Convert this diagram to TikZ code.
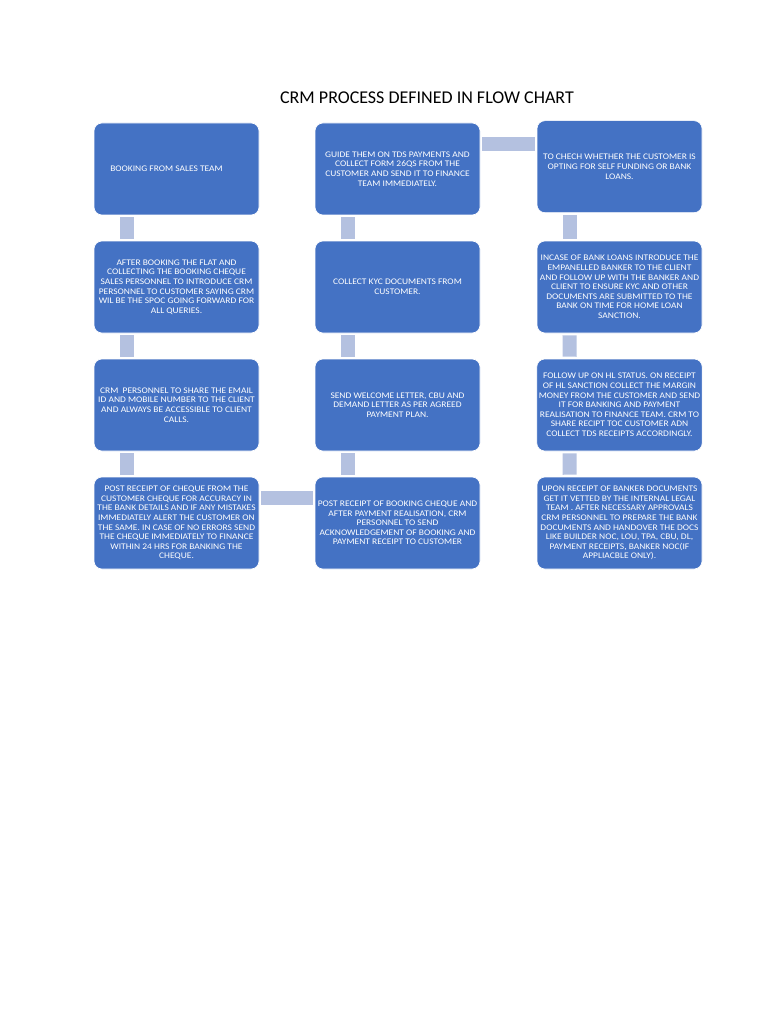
\documentclass[tikz,border=0pt]{standalone}
\usepackage{fontspec}
\setmainfont{Carlito}
\newfontfamily\boxfont[FakeStretch=1.1]{Carlito}
\definecolor{boxblue}{HTML}{4472C4}
\definecolor{linkblue}{HTML}{B4C1E0}
\begin{document}
\begin{tikzpicture}[x=1pt,y=-1pt,
  stage/.style={rectangle, rounded corners=8pt, fill=boxblue, draw=white, line width=0.6pt,
    minimum width=165pt, minimum height=92pt, inner sep=2pt, text=white, align=center,
    font=\boxfont\fontsize{8.6}{9.6}\selectfont},
  link/.style={draw=linkblue, line width=14pt, shorten <=2pt, shorten >=2pt}]
\useasboundingbox (0,0) rectangle (768,1024);
\node (title) at (427,98) {\fontsize{18}{21}\selectfont CRM PROCESS DEFINED IN FLOW CHART};
% left column
\node[stage] (booking) at (176.5,169) {BOOKING FROM SALES TEAM\hspace*{20pt}};
\node[stage] (intro) at (176.5,287) {AFTER BOOKING THE FLAT AND\\COLLECTING THE BOOKING CHEQUE\\SALES PERSONNEL TO INTRODUCE CRM\\PERSONNEL TO CUSTOMER SAYING CRM\\WIL BE THE SPOC GOING FORWARD FOR\\ALL QUERIES.};
\node[stage] (share) at (176.5,405) {CRM\ \ PERSONNEL TO SHARE THE EMAIL\\ID AND MOBILE NUMBER TO THE CLIENT\\AND ALWAYS BE ACCESSIBLE TO CLIENT\\CALLS.};
\node[stage] (cheque) at (176.5,523) {POST RECEIPT OF CHEQUE FROM THE\\CUSTOMER CHEQUE FOR ACCURACY IN\\THE BANK DETAILS AND IF ANY MISTAKES\\IMMEDIATELY ALERT THE CUSTOMER ON\\THE SAME. IN CASE OF NO ERRORS SEND\\THE CHEQUE IMMEDIATELY TO FINANCE\\WITHIN 24 HRS FOR BANKING THE\\CHEQUE.};
% middle column
\node[stage] (tds) at (397.5,169) {GUIDE THEM ON TDS PAYMENTS AND\\COLLECT FORM 26QS FROM THE\\CUSTOMER AND SEND IT TO FINANCE\\TEAM IMMEDIATELY.};
\node[stage] (kyc) at (397.5,287) {COLLECT KYC DOCUMENTS FROM\\CUSTOMER.};
\node[stage] (welcome) at (397.5,405) {SEND WELCOME LETTER, CBU AND\\DEMAND LETTER AS PER AGREED\\PAYMENT PLAN.};
\node[stage] (receipt) at (397.5,523) {POST RECEIPT OF BOOKING CHEQUE AND\\AFTER PAYMENT REALISATION, CRM\\PERSONNEL TO SEND\\ACKNOWLEDGEMENT OF BOOKING AND\\PAYMENT RECEIPT TO CUSTOMER};
% right column
\node[stage] (check) at (619.5,166.7) {TO CHECH WHETHER THE CUSTOMER IS\\OPTING FOR SELF FUNDING OR BANK\\LOANS.};
\node[stage] (banker) at (619.5,287) {INCASE OF BANK LOANS INTRODUCE THE\\EMPANELLED BANKER TO THE CLIENT\\AND FOLLOW UP WITH THE BANKER AND\\CLIENT TO ENSURE KYC AND OTHER\\DOCUMENTS ARE SUBMITTED TO THE\\BANK ON TIME FOR HOME LOAN\\SANCTION.};
\node[stage] (followup) at (619.5,405) {FOLLOW UP ON HL STATUS. ON RECEIPT\\OF HL SANCTION COLLECT THE MARGIN\\MONEY FROM THE CUSTOMER AND SEND\\IT FOR BANKING AND PAYMENT\\REALISATION TO FINANCE TEAM. CRM TO\\SHARE RECIPT TOC CUSTOMER ADN\\COLLECT TDS RECEIPTS ACCORDINGLY.};
\node[stage] (vetting) at (619.5,523) {UPON RECEIPT OF BANKER DOCUMENTS\\GET IT VETTED BY THE INTERNAL LEGAL\\TEAM . AFTER NECESSARY APPROVALS\\CRM PERSONNEL TO PREPARE THE BANK\\DOCUMENTS AND HANDOVER THE DOCS\\LIKE BUILDER NOC, LOU, TPA, CBU, DL,\\PAYMENT RECEIPTS, BANKER NOC(IF\\APPLIACBLE ONLY).};
% connectors
\draw[link] ([shift={(33,0)}]booking.south west) -- ([shift={(33,0)}]intro.north west);
\draw[link] ([shift={(33,0)}]intro.south west) -- ([shift={(33,0)}]share.north west);
\draw[link] ([shift={(33,0)}]share.south west) -- ([shift={(33,0)}]cheque.north west);
\coordinate (chequeright) at ([shift={(0,21.5)}]cheque.north east);
\draw[link] (chequeright) -- (chequeright -| receipt.west);
\draw[link] ([shift={(33,0)}]receipt.north west) -- ([shift={(33,0)}]welcome.south west);
\draw[link] ([shift={(33,0)}]welcome.north west) -- ([shift={(33,0)}]kyc.south west);
\draw[link] ([shift={(33,0)}]kyc.north west) -- ([shift={(33,0)}]tds.south west);
\coordinate (tdsright) at ([shift={(0,21)}]tds.north east);
\draw[link] (tdsright) -- (tdsright -| check.west);
\draw[link] ([shift={(33,0)}]check.south west) -- ([shift={(33,0)}]banker.north west);
\draw[link] ([shift={(33,0)}]banker.south west) -- ([shift={(33,0)}]followup.north west);
\draw[link] ([shift={(33,0)}]followup.south west) -- ([shift={(33,0)}]vetting.north west);
\end{tikzpicture}
\end{document}
